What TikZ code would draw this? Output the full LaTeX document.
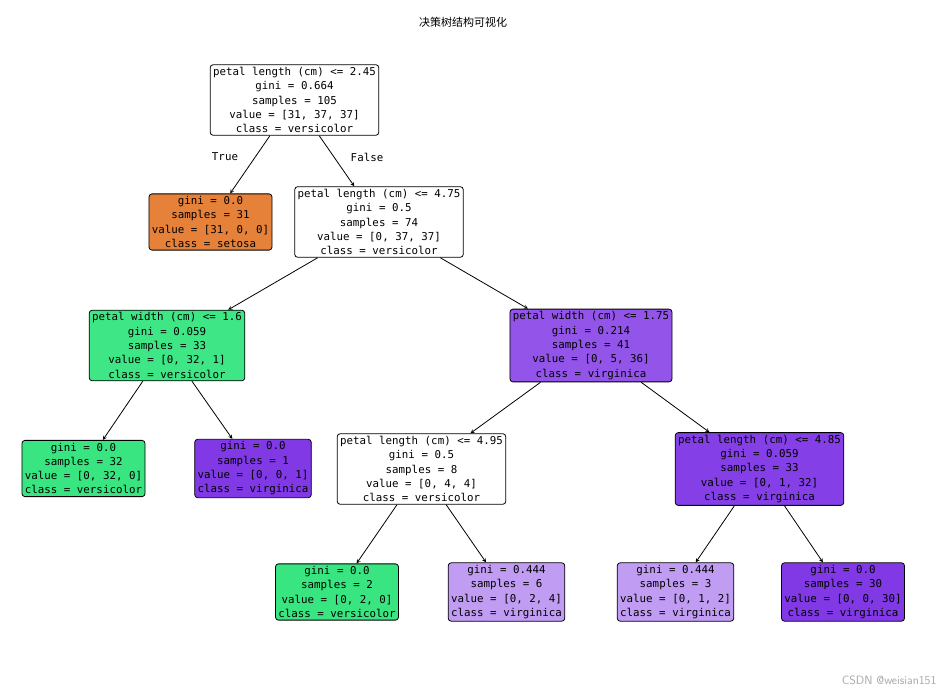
\documentclass[tikz,border=0pt]{standalone}
\usepackage{fontspec}
\setmonofont{DejaVu Sans Mono}
\newfontfamily\cjk{Noto Sans CJK SC}
\definecolor{seto}{RGB}{229,129,57}
\definecolor{vers}{RGB}{57,229,129}
\definecolor{virg}{RGB}{129,57,229}
\begin{document}
\begin{tikzpicture}[x=1pt,y=-1pt,
  box/.style={draw=black,line width=0.8pt,rounded corners=3pt,align=center,
    font=\ttfamily\fontsize{10.8}{14.3}\selectfont,inner xsep=3pt,inner ysep=2.5pt},
  edge/.style={-stealth,line width=0.8pt}]
\useasboundingbox (0,0) rectangle (945,695);
\node[font=\cjk\fontsize{11}{13}\selectfont] (title) at (463,22) {决策树结构可视化};
\node[box,fill=white] (r) at (294.5,100) {petal length (cm) <= 2.45\\gini = 0.664\\samples = 105\\value = [31, 37, 37]\\class = versicolor};
\node[box,fill=seto] (a) at (210.5,222) {gini = 0.0\\samples = 31\\value = [31, 0, 0]\\class = setosa};
\node[box,fill=white] (b) at (379,222) {petal length (cm) <= 4.75\\gini = 0.5\\samples = 74\\value = [0, 37, 37]\\class = versicolor};
\node[box,fill=vers!97!white] (c) at (167,345.5) {petal width (cm) <= 1.6\\gini = 0.059\\samples = 33\\value = [0, 32, 1]\\class = versicolor};
\node[box,fill=virg!86!white] (d) at (591,345.5) {petal width (cm) <= 1.75\\gini = 0.214\\samples = 41\\value = [0, 5, 36]\\class = virginica};
\node[box,fill=vers] (e) at (83.5,468.5) {gini = 0.0\\samples = 32\\value = [0, 32, 0]\\class = versicolor};
\node[box,fill=virg] (f) at (253,468.5) {gini = 0.0\\samples = 1\\value = [0, 0, 1]\\class = virginica};
\node[box,fill=white] (g) at (421.5,469) {petal length (cm) <= 4.95\\gini = 0.5\\samples = 8\\value = [0, 4, 4]\\class = versicolor};
\node[box,fill=virg!97!white] (h) at (759.5,469) {petal length (cm) <= 4.85\\gini = 0.059\\samples = 33\\value = [0, 1, 32]\\class = virginica};
\node[box,fill=vers] (i) at (337,592) {gini = 0.0\\samples = 2\\value = [0, 2, 0]\\class = versicolor};
\node[box,fill=virg!50!white] (j) at (506.5,592) {gini = 0.444\\samples = 6\\value = [0, 2, 4]\\class = virginica};
\node[box,fill=virg!50!white] (k) at (675.5,592) {gini = 0.444\\samples = 3\\value = [0, 1, 2]\\class = virginica};
\node[box,fill=virg] (l) at (843,592) {gini = 0.0\\samples = 30\\value = [0, 0, 30]\\class = virginica};
\foreach \p/\q in {r/a,r/b,b/c,b/d,c/e,c/f,d/g,d/h,g/i,g/j,h/k,h/l}
  \draw[edge] (\p) -- (\q);
\node[font=\ttfamily\fontsize{10.8}{13}\selectfont] (t) at (225,157) {True};
\node[font=\ttfamily\fontsize{10.8}{13}\selectfont] (fa) at (367,157) {False};
\node[font=\sffamily\fontsize{12}{14}\selectfont,text=black!35,anchor=east] (wm) at (940,680) {CSDN @weisian151};
\end{tikzpicture}
\end{document}
